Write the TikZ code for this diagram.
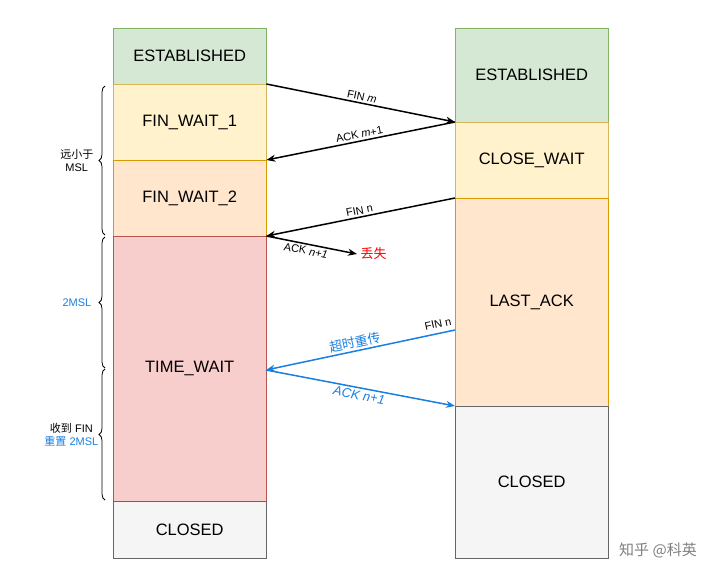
\documentclass[tikz,border=0pt]{standalone}
\usepackage{fontspec}
\setmainfont{Liberation Sans}
\newfontfamily\cjk{Noto Sans CJK SC}
\usetikzlibrary{arrows.meta,decorations.pathreplacing}
\definecolor{gfill}{HTML}{D5E8D4}\definecolor{gline}{HTML}{82B366}
\definecolor{yfill}{HTML}{FFF2CC}\definecolor{yline}{HTML}{D6B656}
\definecolor{ofill}{HTML}{FFE6CC}\definecolor{oline}{HTML}{D79B00}
\definecolor{rfill}{HTML}{F8CECC}\definecolor{rline}{HTML}{B85450}
\definecolor{cfill}{HTML}{F5F5F5}\definecolor{cline}{HTML}{666666}
\definecolor{msgblue}{HTML}{1A7FE0}
\tikzset{
  state/.style={draw, anchor=north west, minimum width=153pt, inner sep=0pt, font=\fontsize{16.5}{18}\selectfont},
  msg/.style={-{Stealth[length=9pt,width=7pt]}, line width=1.5pt},
  lbl/.style={font=\fontsize{11}{13}\selectfont, sloped, inner sep=2pt},
  brc/.style={decorate, decoration={brace, amplitude=6pt}, line width=0.8pt},
}
\begin{document}
\begin{tikzpicture}[x=1pt,y=-1pt]
			\useasboundingbox (0,0) rectangle (720,587);

			% Client states
			\node[state, fill=gfill, draw=gline, minimum height=56pt] (cest) at (113,28) {ESTABLISHED};
			\node[state, fill=yfill, draw=yline, minimum height=76pt] (fw1) at (113,84) {FIN\_WAIT\_1};
			\node[state, fill=ofill, draw=oline, minimum height=76pt] (fw2) at (113,160) {FIN\_WAIT\_2};
			\node[state, fill=rfill, draw=rline, minimum height=265pt] (tw) at (113,236) {TIME\_WAIT};
			\node[state, fill=cfill, draw=cline, minimum height=57pt] (cclosed) at (113,501) {CLOSED};

			% Server states
			\node[state, fill=gfill, draw=gline, minimum height=94pt] (sest) at (455,28) {ESTABLISHED};
			\node[state, fill=yfill, draw=yline, minimum height=76pt] (cw) at (455,122) {CLOSE\_WAIT};
			\node[state, fill=ofill, draw=oline, minimum height=208pt] (la) at (455,198) {LAST\_ACK};
			\node[state, fill=cfill, draw=cline, minimum height=152pt] (sclosed) at (455,406) {CLOSED};

			% Messages
			\draw[msg] (fw1.north east) -- (cw.north west) node[lbl, midway, above] {FIN \textit{m}};
			\draw[msg] (cw.north west) -- (fw2.north west -| fw2.east) node[lbl, midway, above] {ACK \textit{m}+1};
			\draw[msg] (la.north west) -- (tw.north east) node[lbl, midway, above] {FIN n};
			\coordinate (lost) at (357,254);
			\draw[msg] (tw.north east) -- (lost) node[lbl, midway, below, pos=0.45] {ACK \textit{n+1}};
			\node[text=red, font=\cjk\fontsize{13}{15}\selectfont, anchor=west] (lostlbl) at (lost) {丢失};

			\coordinate (twmid) at (266,370);
			\draw[msg, msgblue] (455,330) coordinate (resend) -- (twmid)
				node[lbl, pos=0.52, above, font=\cjk\fontsize{13}{15}\selectfont] {超时重传}
				node[lbl, pos=0.08, above=3pt, text=black] {FIN n};
			\draw[msg, msgblue] (twmid) -- (sclosed.north west)
				node[lbl, midway, below, font=\fontsize{13}{15}\selectfont] {\textit{ACK n+1}};

			% Braces
			\draw[brc] (105,235) -- (105,86) node[midway, left=8pt, align=center, font=\fontsize{11}{13}\selectfont] (b1) {{\cjk 远小于}\\MSL};
			\draw[brc] (105,368) -- (105,237) node[midway, left=10pt, text=msgblue, font=\fontsize{11}{13}\selectfont] (b2) {2MSL};
			\draw[brc] (105,500) -- (105,369) node[midway, left=3pt, align=center, font=\fontsize{11}{13}\selectfont] (b3) {{\cjk 收到} FIN\\\textcolor{msgblue}{{\cjk 重置} 2MSL}};

			% Watermark
			\node[text=gray, font=\cjk\fontsize{15}{17}\selectfont] (wm) at (658,550) {知乎 @科英};
		\end{tikzpicture}
\end{document}
